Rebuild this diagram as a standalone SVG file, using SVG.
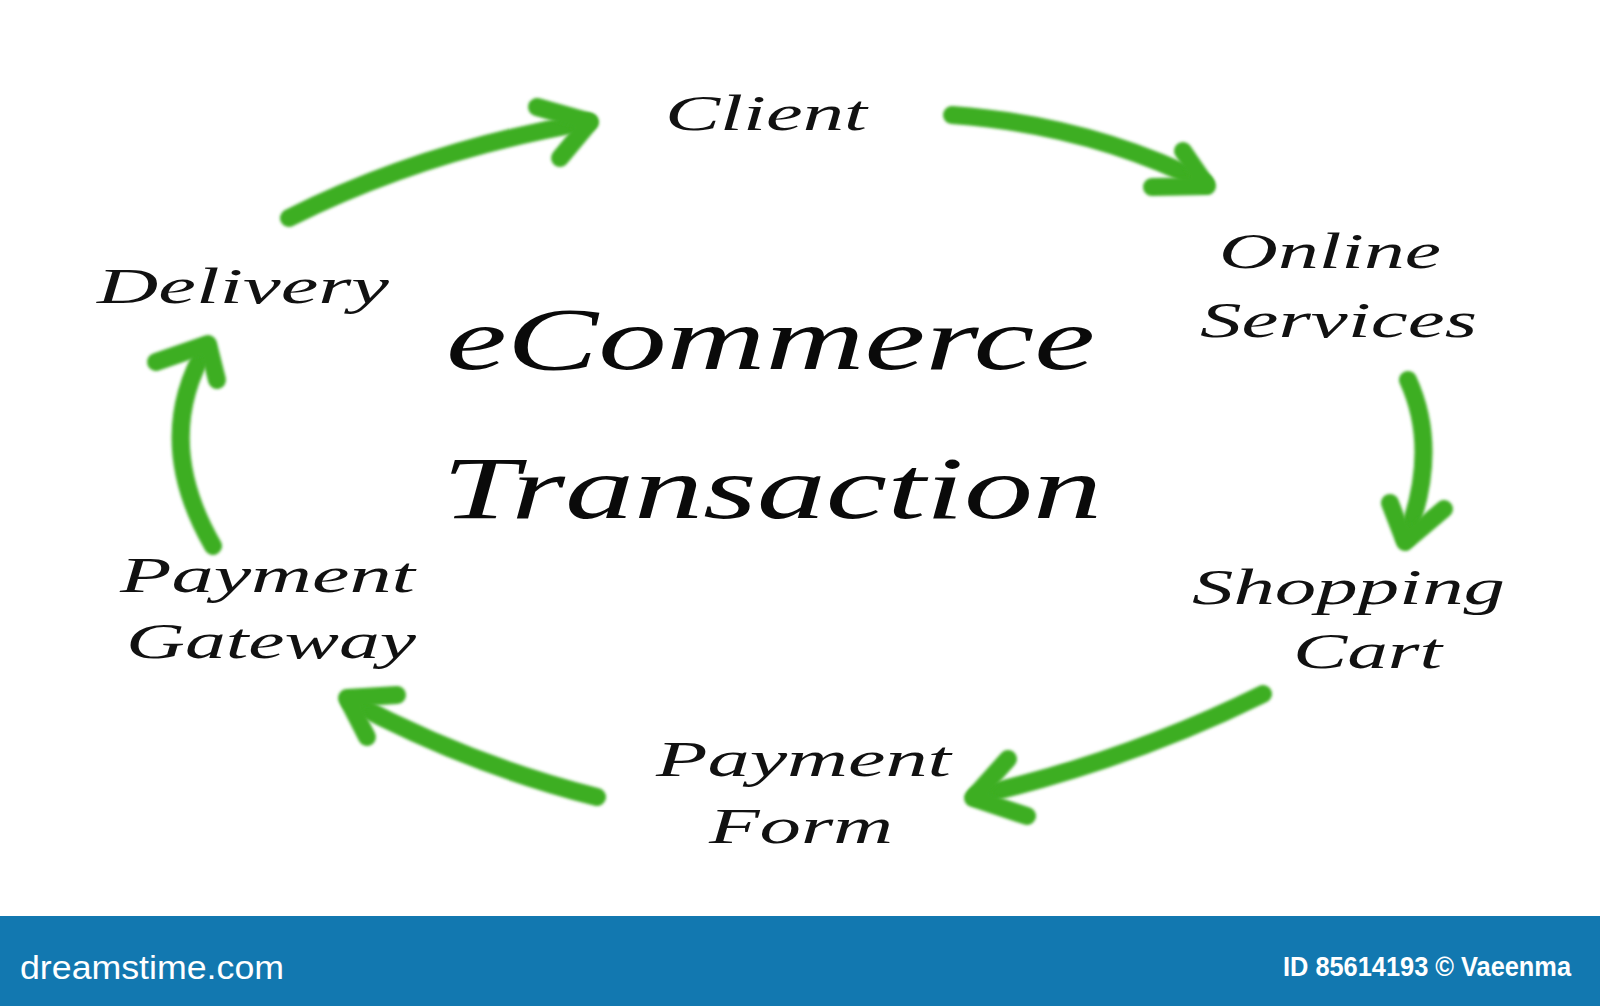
<svg xmlns="http://www.w3.org/2000/svg" width="1600" height="1006" viewBox="0 0 1600 1006">
<style>
.lbl{font-family:"Liberation Serif","Times New Roman",serif;font-style:italic;font-size:50px;fill:#111;}
.title{font-family:"Liberation Serif","Times New Roman",serif;font-style:italic;font-size:88px;fill:#0a0a0a;}
.arr{fill:none;stroke:#3cae22;stroke-width:18;stroke-linecap:round;stroke-linejoin:round;filter:url(#soft);}
.bar{fill:#1278b0;}
.foot{font-family:"Liberation Sans",Arial,sans-serif;fill:#fff;}
</style>
<defs>
<filter id="soft" filterUnits="userSpaceOnUse" x="0" y="0" width="1600" height="1006">
<feGaussianBlur stdDeviation="1.6"/>
</filter>
</defs>
<rect width="1600" height="1006" fill="#fff"/>

<g id="connectors">
<g id="delivery-to-client">
<path class="arr" d="M289,218 Q425,150 588,122"/>
<path class="arr" d="M537,107 L590,122 L560,158"/>
</g>
<g id="client-to-online">
<path class="arr" d="M952,115 Q1090,125 1205,183"/>
<path class="arr" d="M1183,151 L1207,186 L1152,187"/>
</g>
<g id="online-to-cart">
<path class="arr" d="M1408,380 Q1440,450 1406,538"/>
<path class="arr" d="M1390,503 L1405,542 L1444,509"/>
</g>
<g id="cart-to-form">
<path class="arr" d="M1263,694 Q1130,760 976,796"/>
<path class="arr" d="M1008,759 L973,798 L1027,816"/>
</g>
<g id="form-to-gateway">
<path class="arr" d="M597,797 Q470,765 350,701"/>
<path class="arr" d="M397,695 L347,698 L367,737"/>
</g>
<g id="gateway-to-delivery">
<path class="arr" d="M213,546 Q152,440 206,348"/>
<path class="arr" d="M156,362 L208,344 L217,380"/>
</g>
</g>

<g id="title">
<text class="title" x="446" y="369" textLength="649" lengthAdjust="spacingAndGlyphs">eCommerce</text>
<text class="title" x="442" y="518" textLength="660" lengthAdjust="spacingAndGlyphs">Transaction</text>
</g>

<g id="node-client">
<text class="lbl" x="665" y="130" textLength="202" lengthAdjust="spacingAndGlyphs">Client</text>
</g>
<g id="node-online-services">
<text class="lbl" x="1219" y="268" textLength="222" lengthAdjust="spacingAndGlyphs">Online</text>
<text class="lbl" x="1200" y="337" textLength="277" lengthAdjust="spacingAndGlyphs">Services</text>
</g>
<g id="node-shopping-cart">
<text class="lbl" x="1192" y="604" textLength="313" lengthAdjust="spacingAndGlyphs">Shopping</text>
<text class="lbl" x="1293" y="668" textLength="149" lengthAdjust="spacingAndGlyphs">Cart</text>
</g>
<g id="node-payment-form">
<text class="lbl" x="656" y="776" textLength="295" lengthAdjust="spacingAndGlyphs">Payment</text>
<text class="lbl" x="709" y="843" textLength="184" lengthAdjust="spacingAndGlyphs">Form</text>
</g>
<g id="node-payment-gateway">
<text class="lbl" x="120" y="592" textLength="295" lengthAdjust="spacingAndGlyphs">Payment</text>
<text class="lbl" x="126" y="658" textLength="290" lengthAdjust="spacingAndGlyphs">Gateway</text>
</g>
<g id="node-delivery">
<text class="lbl" x="97" y="303" textLength="292" lengthAdjust="spacingAndGlyphs">Delivery</text>
</g>

<g id="footer">
<rect class="bar" x="0" y="916" width="1600" height="90"/>
<text class="foot" x="20" y="979" font-size="34" textLength="264" lengthAdjust="spacingAndGlyphs">dreamstime.com</text>
<text class="foot" x="1283" y="976" font-size="27" font-weight="bold" textLength="288" lengthAdjust="spacingAndGlyphs">ID 85614193 © Vaeenma</text>
</g>
</svg>
